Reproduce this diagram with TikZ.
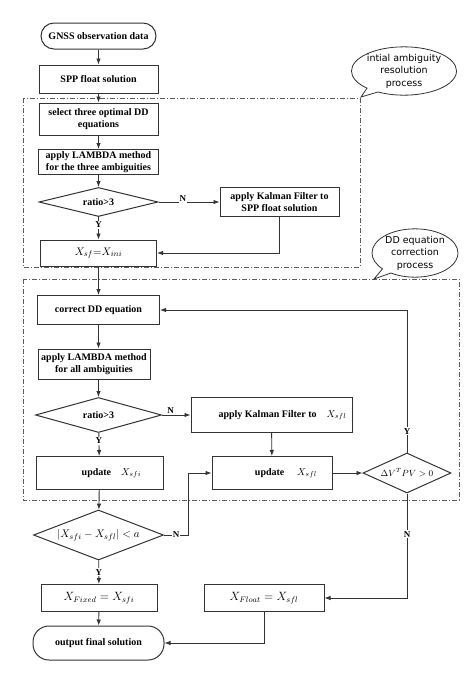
\documentclass[tikz,border=0pt]{standalone}
\usepackage{fontspec}
\setmainfont{Liberation Serif}
\newfontfamily\calloutfont{DejaVu Sans}
\usetikzlibrary{shapes.geometric,shapes.callouts,arrows.meta}
\definecolor{linec}{HTML}{333333}
\begin{document}
\begin{tikzpicture}[x=1pt,y=-1pt,
  txt/.style={font=\bfseries\fontsize{10}{12}\selectfont, text=black},
  box/.style={txt, draw=linec, line width=1pt, rectangle, align=center, inner sep=1pt},
  term/.style={box, rounded corners=13pt},
  dia/.style={txt, draw=linec, line width=1pt, diamond, inner sep=0pt, align=center},
  arr/.style={draw=linec, line width=0.9pt, -{Latex[length=6pt,width=4.5pt]}},
  lab/.style={font=\bfseries\fontsize{9}{10}\selectfont, fill=white, inner sep=1pt},
  region/.style={draw=linec!80, line width=0.7pt, dash pattern=on 5pt off 2pt on 1pt off 2pt},
  bubble/.style={ellipse callout, draw=linec, fill=white, line width=0.8pt, align=center,
    font=\calloutfont\fontsize{9.5}{12.5}\selectfont, inner sep=0pt}
]
\useasboundingbox[fill=white] (0,0) rectangle (474,675);

% regions
\draw[region] (23,98) rectangle (360,267);
\draw[region] (23,279) rectangle (459,500);

% callouts
\coordinate (tip1) at (361,97);
\coordinate (tip2) at (374,279);
\node[bubble, minimum width=88pt, minimum height=46pt, callout absolute pointer={(tip1)}] (c1) at (404,71)
  {intial ambiguity\\resolution\\process};
\node[bubble, minimum width=86pt, minimum height=48pt, callout absolute pointer={(tip2)}] (c2) at (415,253)
  {DD equation\\correction\\process};

% nodes
\node[term, minimum width=115pt, minimum height=26pt] (gnss) at (98.5,36) {GNSS observation data};
\node[box, minimum width=119pt, minimum height=28pt] (spp) at (98.5,79) {SPP float solution};
\node[box, minimum width=119pt, minimum height=32pt] (sel) at (98.5,119) {select three optimal DD\\equations};
\node[box, minimum width=120pt, minimum height=25pt] (lam1) at (98.5,162) {apply LAMBDA method\\for the three ambiguities};
\node[dia, minimum width=119pt, minimum height=29pt, shape aspect=4.1] (d1) at (98.5,202) {ratio>3};
\node[box, minimum width=119pt, minimum height=29pt] (kal1) at (279.5,202) {apply Kalman Filter to\\SPP float solution};
\node[box, minimum width=116pt, minimum height=26pt, font=\fontsize{11}{13}\selectfont] (xsf) at (98.5,253) {$X_{sf}{=}X_{ini}$};

\node[box, minimum width=122pt, minimum height=29pt] (cdd) at (98.5,310) {correct DD equation};
\node[box, minimum width=112pt, minimum height=30pt] (lam2) at (94,364) {apply LAMBDA method\\for all ambiguities};
\node[dia, minimum width=126pt, minimum height=35pt, shape aspect=3.6] (d2) at (98.5,415) {ratio>3};
\node[box, minimum width=161pt, minimum height=35pt] (kal2) at (271.5,415) {\hspace*{22pt}apply Kalman Filter to\quad$X_{sfl}$};
\node[box, minimum width=127pt, minimum height=33pt] (upd1) at (99.5,473) {\hspace*{24pt}update\quad$X_{sfi}$};
\node[box, minimum width=120pt, minimum height=33pt] (upd2) at (272,473) {\hspace*{28pt}update\quad\;$X_{sfl}$};
\node[dia, minimum width=88pt, minimum height=40pt, shape aspect=2.2, font=\fontsize{9}{11}\selectfont] (d3) at (407,473) {$\Delta V^{T}PV>0$};
\node[dia, minimum width=130pt, minimum height=50pt, shape aspect=2.6, font=\fontsize{11}{13}\selectfont] (d4) at (98.5,535) {$|X_{sfi}-X_{sfl}|<a$};
\node[box, minimum width=116pt, minimum height=27pt, font=\fontsize{12}{14}\selectfont] (fixed) at (99,598) {$X_{Fixed}=X_{sfi}$};
\node[box, minimum width=120pt, minimum height=27pt, font=\fontsize{12}{14}\selectfont] (float) at (264,598) {$X_{Float}=X_{sfl}$};
\node[term, minimum width=131pt, minimum height=34pt, rounded corners=16pt] (out) at (98.5,643) {output final solution};

% connectors
\draw[arr] (gnss) -- (spp);
\draw[arr] (spp) -- (sel);
\draw[arr] (sel) -- (lam1);
\draw[arr] (lam1) -- (d1);
\draw[arr] (d1) -- node[lab, pos=0.4, yshift=3pt] {N} (kal1);
\draw[arr] (d1) -- node[lab, pos=0.35] {Y} (xsf);
\draw[arr] (kal1.south) |- (xsf.east);
\draw[arr] (xsf) -- (cdd);
\draw[arr] (cdd.south) -- (cdd.south |- lam2.north);
\draw[arr] (lam2.south -| cdd.south) -- (d2.north);
\draw[arr] (d2) -- node[lab, pos=0.3, above, fill=none] {N} (kal2);
\draw[arr] (d2) -- node[lab, pos=0.35] {Y} (upd1);
\draw[arr] (kal2) -- (upd2);
\draw[arr] (upd2) -- (d3);
\draw[arr] (d3.north) -- node[lab, pos=0.15] {Y} (d3.north |- cdd.east) -- (cdd.east);
\draw[arr] (upd1) -- (d4);
\coordinate (bend) at (188,535);
\draw[arr] (d4.east) -- node[lab, midway] {N} (bend) |- (upd2.west);
\draw[arr] (d4) -- node[lab, pos=0.5] {Y} (fixed);
\draw[arr] (d3.south) -- node[lab, pos=0.39] {N} (d3.south |- float.east) -- (float.east);
\draw[arr] (fixed) -- (out);
\draw[arr] (float.south) |- (out.east);
\end{tikzpicture}
\end{document}
